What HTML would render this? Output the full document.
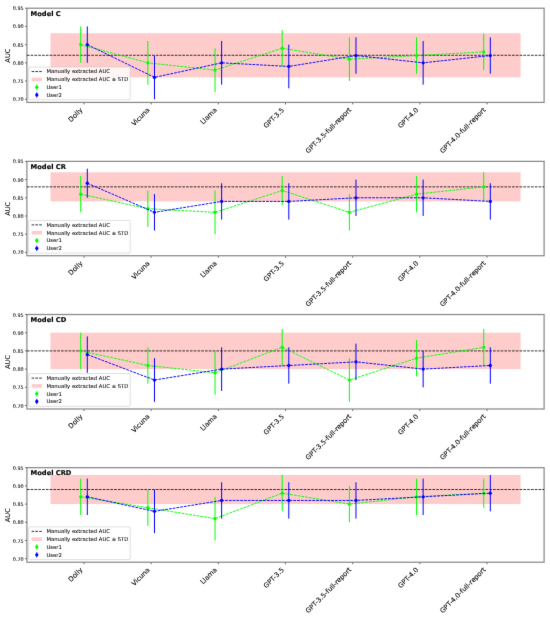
<!DOCTYPE html>
<html lang="en"><head><meta charset="utf-8"><title>AUC by model</title>
<style>html,body{margin:0;padding:0;background:#fff}svg{display:block}text{font-family:"DejaVu Sans","Liberation Sans",sans-serif;fill:#000;stroke:#000;stroke-width:0.05px;text-rendering:geometricPrecision}.t{font-size:4.9px}.l{font-size:5.28px}.h{font-size:6.7px;font-weight:bold;stroke-width:0.15px}.y{font-size:6.7px}.x{font-size:6.7px;stroke-width:0.1px}</style></head><body>
<svg width="550" height="618" viewBox="0 0 550 618">
<defs><filter id="b" x="0" y="0" width="550" height="618" filterUnits="userSpaceOnUse" color-interpolation-filters="sRGB"><feConvolveMatrix order="3" kernelMatrix="0.0049 0.0602 0.0049 0.0602 0.7396 0.0602 0.0049 0.0602 0.0049" divisor="1" edgeMode="duplicate" preserveAlpha="true"/></filter></defs>
<g filter="url(#b)">
<rect width="550" height="618" fill="#fff"/>
<g>
<rect x="50.41" y="33.19" width="470.19" height="44.19" fill="#ffcccc"/>
<line x1="26.9" x2="544.1" y1="55.29" y2="55.29" stroke="#000" stroke-width="0.8" stroke-dasharray="2.65 1.14"/>
<line x1="80.7" x2="80.7" y1="26.42" y2="62.82" stroke="#00ff00" stroke-width="1.0"/>
<line x1="147.87" x2="147.87" y1="40.98" y2="84.66" stroke="#00ff00" stroke-width="1.0"/>
<line x1="215.04" x2="215.04" y1="48.26" y2="91.94" stroke="#00ff00" stroke-width="1.0"/>
<line x1="282.21" x2="282.21" y1="30.06" y2="66.46" stroke="#00ff00" stroke-width="1.0"/>
<line x1="349.38" x2="349.38" y1="37.34" y2="81.02" stroke="#00ff00" stroke-width="1.0"/>
<line x1="416.55" x2="416.55" y1="37.34" y2="73.74" stroke="#00ff00" stroke-width="1.0"/>
<line x1="483.72" x2="483.72" y1="33.7" y2="70.1" stroke="#00ff00" stroke-width="1.0"/>
<polyline fill="none" stroke="#00ff00" stroke-width="0.95" stroke-dasharray="2.75 1.04" points="80.7,44.62 147.87,62.82 215.04,70.1 282.21,48.26 349.38,59.18 416.55,55.54 483.72,51.9"/>
<circle cx="80.7" cy="44.62" r="1.65" fill="#00ff00"/>
<circle cx="147.87" cy="62.82" r="1.65" fill="#00ff00"/>
<circle cx="215.04" cy="70.1" r="1.65" fill="#00ff00"/>
<circle cx="282.21" cy="48.26" r="1.65" fill="#00ff00"/>
<circle cx="349.38" cy="59.18" r="1.65" fill="#00ff00"/>
<circle cx="416.55" cy="55.54" r="1.65" fill="#00ff00"/>
<circle cx="483.72" cy="51.9" r="1.65" fill="#00ff00"/>
<line x1="87.3" x2="87.3" y1="26.42" y2="62.82" stroke="#0000ff" stroke-width="1.0"/>
<line x1="154.47" x2="154.47" y1="55.54" y2="99.22" stroke="#0000ff" stroke-width="1.0"/>
<line x1="221.64" x2="221.64" y1="40.98" y2="84.66" stroke="#0000ff" stroke-width="1.0"/>
<line x1="288.81" x2="288.81" y1="44.62" y2="88.3" stroke="#0000ff" stroke-width="1.0"/>
<line x1="355.98" x2="355.98" y1="37.34" y2="73.74" stroke="#0000ff" stroke-width="1.0"/>
<line x1="423.15" x2="423.15" y1="40.98" y2="84.66" stroke="#0000ff" stroke-width="1.0"/>
<line x1="490.32" x2="490.32" y1="37.34" y2="73.74" stroke="#0000ff" stroke-width="1.0"/>
<polyline fill="none" stroke="#0000ff" stroke-width="0.95" stroke-dasharray="2.75 1.04" points="87.3,44.62 154.47,77.38 221.64,62.82 288.81,66.46 355.98,55.54 423.15,62.82 490.32,55.54"/>
<circle cx="87.3" cy="44.62" r="1.65" fill="#0000ff"/>
<circle cx="154.47" cy="77.38" r="1.65" fill="#0000ff"/>
<circle cx="221.64" cy="62.82" r="1.65" fill="#0000ff"/>
<circle cx="288.81" cy="66.46" r="1.65" fill="#0000ff"/>
<circle cx="355.98" cy="55.54" r="1.65" fill="#0000ff"/>
<circle cx="423.15" cy="62.82" r="1.65" fill="#0000ff"/>
<circle cx="490.32" cy="55.54" r="1.65" fill="#0000ff"/>
<rect x="26.9" y="8.22" width="517.2" height="94.2" fill="none" stroke="#000" stroke-opacity="0.46" stroke-width="1.25"/>
<line x1="25.1" x2="26.6" y1="99.22" y2="99.22" stroke="#000" stroke-width="0.6"/>
<text class="t" x="23.7" y="101.28" text-anchor="end">0.70</text>
<line x1="25.1" x2="26.6" y1="81.02" y2="81.02" stroke="#000" stroke-width="0.6"/>
<text class="t" x="23.7" y="83.08" text-anchor="end">0.75</text>
<line x1="25.1" x2="26.6" y1="62.82" y2="62.82" stroke="#000" stroke-width="0.6"/>
<text class="t" x="23.7" y="64.88" text-anchor="end">0.80</text>
<line x1="25.1" x2="26.6" y1="44.62" y2="44.62" stroke="#000" stroke-width="0.6"/>
<text class="t" x="23.7" y="46.68" text-anchor="end">0.85</text>
<line x1="25.1" x2="26.6" y1="26.42" y2="26.42" stroke="#000" stroke-width="0.6"/>
<text class="t" x="23.7" y="28.48" text-anchor="end">0.90</text>
<line x1="25.1" x2="26.6" y1="8.22" y2="8.22" stroke="#000" stroke-width="0.6"/>
<text class="t" x="23.7" y="10.28" text-anchor="end">0.95</text>
<line x1="84" x2="84" y1="102.92" y2="104.42" stroke="#000" stroke-width="0.6"/>
<text class="x" transform="translate(83 110.42) rotate(-45)" text-anchor="end">Dolly</text>
<line x1="151.17" x2="151.17" y1="102.92" y2="104.42" stroke="#000" stroke-width="0.6"/>
<text class="x" transform="translate(150.17 110.42) rotate(-45)" text-anchor="end">Vicuna</text>
<line x1="218.34" x2="218.34" y1="102.92" y2="104.42" stroke="#000" stroke-width="0.6"/>
<text class="x" transform="translate(217.34 110.42) rotate(-45)" text-anchor="end">Llama</text>
<line x1="285.51" x2="285.51" y1="102.92" y2="104.42" stroke="#000" stroke-width="0.6"/>
<text class="x" transform="translate(284.51 110.42) rotate(-45)" text-anchor="end">GPT-3.5</text>
<line x1="352.68" x2="352.68" y1="102.92" y2="104.42" stroke="#000" stroke-width="0.6"/>
<text class="x" transform="translate(351.68 110.42) rotate(-45)" text-anchor="end">GPT-3.5-full-report</text>
<line x1="419.85" x2="419.85" y1="102.92" y2="104.42" stroke="#000" stroke-width="0.6"/>
<text class="x" transform="translate(418.85 110.42) rotate(-45)" text-anchor="end">GPT-4.0</text>
<line x1="487.02" x2="487.02" y1="102.92" y2="104.42" stroke="#000" stroke-width="0.6"/>
<text class="x" transform="translate(486.02 110.42) rotate(-45)" text-anchor="end">GPT-4.0-full-report</text>
<text class="y" transform="translate(9.8 55.57) rotate(-90)" text-anchor="middle">AUC</text>
<text class="h" x="30.6" y="15.87">Model C</text>
<rect x="28.7" y="67.07" width="101.5" height="32.7" rx="0.9" fill="#fff" fill-opacity="0.8" stroke="#c4c4c4" stroke-opacity="0.9" stroke-width="0.6"/>
<line x1="31.6" x2="42" y1="71.57" y2="71.57" stroke="#000" stroke-width="0.8" stroke-dasharray="2.65 1.14"/>
<rect x="31.6" y="77.57" width="10.4" height="3.6" fill="#ffcccc"/>
<line x1="36.8" x2="36.8" y1="84.57" y2="89.77" stroke="#00ff00" stroke-width="1.0"/>
<circle cx="36.8" cy="87.17" r="1.65" fill="#00ff00"/>
<line x1="36.8" x2="36.8" y1="92.37" y2="97.57" stroke="#0000ff" stroke-width="1.0"/>
<circle cx="36.8" cy="94.97" r="1.65" fill="#0000ff"/>
<text class="l" x="46.5" y="73.47">Manually extracted AUC</text>
<text class="l" x="46.5" y="81.27">Manually extracted AUC ± STD</text>
<text class="l" x="46.5" y="89.07">User1</text>
<text class="l" x="46.5" y="96.87">User2</text>
</g>
<g>
<rect x="50.41" y="172.3" width="470.19" height="29.12" fill="#ffcccc"/>
<line x1="26.9" x2="544.1" y1="186.86" y2="186.86" stroke="#000" stroke-width="0.8" stroke-dasharray="2.65 1.14"/>
<line x1="80.7" x2="80.7" y1="175.94" y2="212.34" stroke="#00ff00" stroke-width="1.0"/>
<line x1="147.87" x2="147.87" y1="190.5" y2="226.9" stroke="#00ff00" stroke-width="1.0"/>
<line x1="215.04" x2="215.04" y1="190.5" y2="234.18" stroke="#00ff00" stroke-width="1.0"/>
<line x1="282.21" x2="282.21" y1="175.94" y2="205.06" stroke="#00ff00" stroke-width="1.0"/>
<line x1="349.38" x2="349.38" y1="194.14" y2="230.54" stroke="#00ff00" stroke-width="1.0"/>
<line x1="416.55" x2="416.55" y1="175.94" y2="212.34" stroke="#00ff00" stroke-width="1.0"/>
<line x1="483.72" x2="483.72" y1="172.3" y2="201.42" stroke="#00ff00" stroke-width="1.0"/>
<polyline fill="none" stroke="#00ff00" stroke-width="0.95" stroke-dasharray="2.75 1.04" points="80.7,194.14 147.87,208.7 215.04,212.34 282.21,190.5 349.38,212.34 416.55,194.14 483.72,186.86"/>
<circle cx="80.7" cy="194.14" r="1.65" fill="#00ff00"/>
<circle cx="147.87" cy="208.7" r="1.65" fill="#00ff00"/>
<circle cx="215.04" cy="212.34" r="1.65" fill="#00ff00"/>
<circle cx="282.21" cy="190.5" r="1.65" fill="#00ff00"/>
<circle cx="349.38" cy="212.34" r="1.65" fill="#00ff00"/>
<circle cx="416.55" cy="194.14" r="1.65" fill="#00ff00"/>
<circle cx="483.72" cy="186.86" r="1.65" fill="#00ff00"/>
<line x1="87.3" x2="87.3" y1="168.66" y2="197.78" stroke="#0000ff" stroke-width="1.0"/>
<line x1="154.47" x2="154.47" y1="194.14" y2="230.54" stroke="#0000ff" stroke-width="1.0"/>
<line x1="221.64" x2="221.64" y1="183.22" y2="219.62" stroke="#0000ff" stroke-width="1.0"/>
<line x1="288.81" x2="288.81" y1="183.22" y2="219.62" stroke="#0000ff" stroke-width="1.0"/>
<line x1="355.98" x2="355.98" y1="179.58" y2="215.98" stroke="#0000ff" stroke-width="1.0"/>
<line x1="423.15" x2="423.15" y1="179.58" y2="215.98" stroke="#0000ff" stroke-width="1.0"/>
<line x1="490.32" x2="490.32" y1="183.22" y2="219.62" stroke="#0000ff" stroke-width="1.0"/>
<polyline fill="none" stroke="#0000ff" stroke-width="0.95" stroke-dasharray="2.75 1.04" points="87.3,183.22 154.47,212.34 221.64,201.42 288.81,201.42 355.98,197.78 423.15,197.78 490.32,201.42"/>
<circle cx="87.3" cy="183.22" r="1.65" fill="#0000ff"/>
<circle cx="154.47" cy="212.34" r="1.65" fill="#0000ff"/>
<circle cx="221.64" cy="201.42" r="1.65" fill="#0000ff"/>
<circle cx="288.81" cy="201.42" r="1.65" fill="#0000ff"/>
<circle cx="355.98" cy="197.78" r="1.65" fill="#0000ff"/>
<circle cx="423.15" cy="197.78" r="1.65" fill="#0000ff"/>
<circle cx="490.32" cy="201.42" r="1.65" fill="#0000ff"/>
<rect x="26.9" y="161.38" width="517.2" height="94.35" fill="none" stroke="#000" stroke-opacity="0.46" stroke-width="1.25"/>
<line x1="25.1" x2="26.6" y1="252.38" y2="252.38" stroke="#000" stroke-width="0.6"/>
<text class="t" x="23.7" y="254.44" text-anchor="end">0.70</text>
<line x1="25.1" x2="26.6" y1="234.18" y2="234.18" stroke="#000" stroke-width="0.6"/>
<text class="t" x="23.7" y="236.24" text-anchor="end">0.75</text>
<line x1="25.1" x2="26.6" y1="215.98" y2="215.98" stroke="#000" stroke-width="0.6"/>
<text class="t" x="23.7" y="218.04" text-anchor="end">0.80</text>
<line x1="25.1" x2="26.6" y1="197.78" y2="197.78" stroke="#000" stroke-width="0.6"/>
<text class="t" x="23.7" y="199.84" text-anchor="end">0.85</text>
<line x1="25.1" x2="26.6" y1="179.58" y2="179.58" stroke="#000" stroke-width="0.6"/>
<text class="t" x="23.7" y="181.64" text-anchor="end">0.90</text>
<line x1="25.1" x2="26.6" y1="161.38" y2="161.38" stroke="#000" stroke-width="0.6"/>
<text class="t" x="23.7" y="163.44" text-anchor="end">0.95</text>
<line x1="84" x2="84" y1="256.23" y2="257.73" stroke="#000" stroke-width="0.6"/>
<text class="x" transform="translate(83 263.73) rotate(-45)" text-anchor="end">Dolly</text>
<line x1="151.17" x2="151.17" y1="256.23" y2="257.73" stroke="#000" stroke-width="0.6"/>
<text class="x" transform="translate(150.17 263.73) rotate(-45)" text-anchor="end">Vicuna</text>
<line x1="218.34" x2="218.34" y1="256.23" y2="257.73" stroke="#000" stroke-width="0.6"/>
<text class="x" transform="translate(217.34 263.73) rotate(-45)" text-anchor="end">Llama</text>
<line x1="285.51" x2="285.51" y1="256.23" y2="257.73" stroke="#000" stroke-width="0.6"/>
<text class="x" transform="translate(284.51 263.73) rotate(-45)" text-anchor="end">GPT-3.5</text>
<line x1="352.68" x2="352.68" y1="256.23" y2="257.73" stroke="#000" stroke-width="0.6"/>
<text class="x" transform="translate(351.68 263.73) rotate(-45)" text-anchor="end">GPT-3.5-full-report</text>
<line x1="419.85" x2="419.85" y1="256.23" y2="257.73" stroke="#000" stroke-width="0.6"/>
<text class="x" transform="translate(418.85 263.73) rotate(-45)" text-anchor="end">GPT-4.0</text>
<line x1="487.02" x2="487.02" y1="256.23" y2="257.73" stroke="#000" stroke-width="0.6"/>
<text class="x" transform="translate(486.02 263.73) rotate(-45)" text-anchor="end">GPT-4.0-full-report</text>
<text class="y" transform="translate(9.8 208.81) rotate(-90)" text-anchor="middle">AUC</text>
<text class="h" x="30.6" y="169.03">Model CR</text>
<rect x="28.7" y="220.38" width="101.5" height="32.7" rx="0.9" fill="#fff" fill-opacity="0.8" stroke="#c4c4c4" stroke-opacity="0.9" stroke-width="0.6"/>
<line x1="31.6" x2="42" y1="224.88" y2="224.88" stroke="#000" stroke-width="0.8" stroke-dasharray="2.65 1.14"/>
<rect x="31.6" y="230.88" width="10.4" height="3.6" fill="#ffcccc"/>
<line x1="36.8" x2="36.8" y1="237.88" y2="243.08" stroke="#00ff00" stroke-width="1.0"/>
<circle cx="36.8" cy="240.48" r="1.65" fill="#00ff00"/>
<line x1="36.8" x2="36.8" y1="245.68" y2="250.88" stroke="#0000ff" stroke-width="1.0"/>
<circle cx="36.8" cy="248.28" r="1.65" fill="#0000ff"/>
<text class="l" x="46.5" y="226.78">Manually extracted AUC</text>
<text class="l" x="46.5" y="234.58">Manually extracted AUC ± STD</text>
<text class="l" x="46.5" y="242.38">User1</text>
<text class="l" x="46.5" y="250.18">User2</text>
</g>
<g>
<rect x="50.41" y="332.72" width="470.19" height="36.4" fill="#ffcccc"/>
<line x1="26.9" x2="544.1" y1="350.92" y2="350.92" stroke="#000" stroke-width="0.8" stroke-dasharray="2.65 1.14"/>
<line x1="80.7" x2="80.7" y1="332.72" y2="369.12" stroke="#00ff00" stroke-width="1.0"/>
<line x1="147.87" x2="147.87" y1="347.28" y2="383.68" stroke="#00ff00" stroke-width="1.0"/>
<line x1="215.04" x2="215.04" y1="350.92" y2="394.6" stroke="#00ff00" stroke-width="1.0"/>
<line x1="282.21" x2="282.21" y1="329.08" y2="365.48" stroke="#00ff00" stroke-width="1.0"/>
<line x1="349.38" x2="349.38" y1="358.2" y2="401.88" stroke="#00ff00" stroke-width="1.0"/>
<line x1="416.55" x2="416.55" y1="340" y2="376.4" stroke="#00ff00" stroke-width="1.0"/>
<line x1="483.72" x2="483.72" y1="329.08" y2="365.48" stroke="#00ff00" stroke-width="1.0"/>
<polyline fill="none" stroke="#00ff00" stroke-width="0.95" stroke-dasharray="2.75 1.04" points="80.7,350.92 147.87,365.48 215.04,372.76 282.21,347.28 349.38,380.04 416.55,358.2 483.72,347.28"/>
<circle cx="80.7" cy="350.92" r="1.65" fill="#00ff00"/>
<circle cx="147.87" cy="365.48" r="1.65" fill="#00ff00"/>
<circle cx="215.04" cy="372.76" r="1.65" fill="#00ff00"/>
<circle cx="282.21" cy="347.28" r="1.65" fill="#00ff00"/>
<circle cx="349.38" cy="380.04" r="1.65" fill="#00ff00"/>
<circle cx="416.55" cy="358.2" r="1.65" fill="#00ff00"/>
<circle cx="483.72" cy="347.28" r="1.65" fill="#00ff00"/>
<line x1="87.3" x2="87.3" y1="336.36" y2="372.76" stroke="#0000ff" stroke-width="1.0"/>
<line x1="154.47" x2="154.47" y1="358.2" y2="401.88" stroke="#0000ff" stroke-width="1.0"/>
<line x1="221.64" x2="221.64" y1="347.28" y2="390.96" stroke="#0000ff" stroke-width="1.0"/>
<line x1="288.81" x2="288.81" y1="347.28" y2="383.68" stroke="#0000ff" stroke-width="1.0"/>
<line x1="355.98" x2="355.98" y1="343.64" y2="380.04" stroke="#0000ff" stroke-width="1.0"/>
<line x1="423.15" x2="423.15" y1="350.92" y2="387.32" stroke="#0000ff" stroke-width="1.0"/>
<line x1="490.32" x2="490.32" y1="347.28" y2="383.68" stroke="#0000ff" stroke-width="1.0"/>
<polyline fill="none" stroke="#0000ff" stroke-width="0.95" stroke-dasharray="2.75 1.04" points="87.3,354.56 154.47,380.04 221.64,369.12 288.81,365.48 355.98,361.84 423.15,369.12 490.32,365.48"/>
<circle cx="87.3" cy="354.56" r="1.65" fill="#0000ff"/>
<circle cx="154.47" cy="380.04" r="1.65" fill="#0000ff"/>
<circle cx="221.64" cy="369.12" r="1.65" fill="#0000ff"/>
<circle cx="288.81" cy="365.48" r="1.65" fill="#0000ff"/>
<circle cx="355.98" cy="361.84" r="1.65" fill="#0000ff"/>
<circle cx="423.15" cy="369.12" r="1.65" fill="#0000ff"/>
<circle cx="490.32" cy="365.48" r="1.65" fill="#0000ff"/>
<rect x="26.9" y="314.52" width="517.2" height="94.45" fill="none" stroke="#000" stroke-opacity="0.46" stroke-width="1.25"/>
<line x1="25.1" x2="26.6" y1="405.52" y2="405.52" stroke="#000" stroke-width="0.6"/>
<text class="t" x="23.7" y="407.58" text-anchor="end">0.70</text>
<line x1="25.1" x2="26.6" y1="387.32" y2="387.32" stroke="#000" stroke-width="0.6"/>
<text class="t" x="23.7" y="389.38" text-anchor="end">0.75</text>
<line x1="25.1" x2="26.6" y1="369.12" y2="369.12" stroke="#000" stroke-width="0.6"/>
<text class="t" x="23.7" y="371.18" text-anchor="end">0.80</text>
<line x1="25.1" x2="26.6" y1="350.92" y2="350.92" stroke="#000" stroke-width="0.6"/>
<text class="t" x="23.7" y="352.98" text-anchor="end">0.85</text>
<line x1="25.1" x2="26.6" y1="332.72" y2="332.72" stroke="#000" stroke-width="0.6"/>
<text class="t" x="23.7" y="334.78" text-anchor="end">0.90</text>
<line x1="25.1" x2="26.6" y1="314.52" y2="314.52" stroke="#000" stroke-width="0.6"/>
<text class="t" x="23.7" y="316.58" text-anchor="end">0.95</text>
<line x1="84" x2="84" y1="409.47" y2="410.97" stroke="#000" stroke-width="0.6"/>
<text class="x" transform="translate(83 416.97) rotate(-45)" text-anchor="end">Dolly</text>
<line x1="151.17" x2="151.17" y1="409.47" y2="410.97" stroke="#000" stroke-width="0.6"/>
<text class="x" transform="translate(150.17 416.97) rotate(-45)" text-anchor="end">Vicuna</text>
<line x1="218.34" x2="218.34" y1="409.47" y2="410.97" stroke="#000" stroke-width="0.6"/>
<text class="x" transform="translate(217.34 416.97) rotate(-45)" text-anchor="end">Llama</text>
<line x1="285.51" x2="285.51" y1="409.47" y2="410.97" stroke="#000" stroke-width="0.6"/>
<text class="x" transform="translate(284.51 416.97) rotate(-45)" text-anchor="end">GPT-3.5</text>
<line x1="352.68" x2="352.68" y1="409.47" y2="410.97" stroke="#000" stroke-width="0.6"/>
<text class="x" transform="translate(351.68 416.97) rotate(-45)" text-anchor="end">GPT-3.5-full-report</text>
<line x1="419.85" x2="419.85" y1="409.47" y2="410.97" stroke="#000" stroke-width="0.6"/>
<text class="x" transform="translate(418.85 416.97) rotate(-45)" text-anchor="end">GPT-4.0</text>
<line x1="487.02" x2="487.02" y1="409.47" y2="410.97" stroke="#000" stroke-width="0.6"/>
<text class="x" transform="translate(486.02 416.97) rotate(-45)" text-anchor="end">GPT-4.0-full-report</text>
<text class="y" transform="translate(9.8 362) rotate(-90)" text-anchor="middle">AUC</text>
<text class="h" x="30.6" y="322.17">Model CD</text>
<rect x="28.7" y="373.62" width="101.5" height="32.7" rx="0.9" fill="#fff" fill-opacity="0.8" stroke="#c4c4c4" stroke-opacity="0.9" stroke-width="0.6"/>
<line x1="31.6" x2="42" y1="378.12" y2="378.12" stroke="#000" stroke-width="0.8" stroke-dasharray="2.65 1.14"/>
<rect x="31.6" y="384.12" width="10.4" height="3.6" fill="#ffcccc"/>
<line x1="36.8" x2="36.8" y1="391.12" y2="396.32" stroke="#00ff00" stroke-width="1.0"/>
<circle cx="36.8" cy="393.72" r="1.65" fill="#00ff00"/>
<line x1="36.8" x2="36.8" y1="398.92" y2="404.12" stroke="#0000ff" stroke-width="1.0"/>
<circle cx="36.8" cy="401.52" r="1.65" fill="#0000ff"/>
<text class="l" x="46.5" y="380.02">Manually extracted AUC</text>
<text class="l" x="46.5" y="387.82">Manually extracted AUC ± STD</text>
<text class="l" x="46.5" y="395.62">User1</text>
<text class="l" x="46.5" y="403.42">User2</text>
</g>
<g>
<rect x="50.41" y="474.96" width="470.19" height="29.12" fill="#ffcccc"/>
<line x1="26.9" x2="544.1" y1="489.52" y2="489.52" stroke="#000" stroke-width="0.8" stroke-dasharray="2.65 1.14"/>
<line x1="80.7" x2="80.7" y1="478.6" y2="515" stroke="#00ff00" stroke-width="1.0"/>
<line x1="147.87" x2="147.87" y1="489.52" y2="525.92" stroke="#00ff00" stroke-width="1.0"/>
<line x1="215.04" x2="215.04" y1="496.8" y2="540.48" stroke="#00ff00" stroke-width="1.0"/>
<line x1="282.21" x2="282.21" y1="474.96" y2="511.36" stroke="#00ff00" stroke-width="1.0"/>
<line x1="349.38" x2="349.38" y1="485.88" y2="522.28" stroke="#00ff00" stroke-width="1.0"/>
<line x1="416.55" x2="416.55" y1="478.6" y2="515" stroke="#00ff00" stroke-width="1.0"/>
<line x1="483.72" x2="483.72" y1="478.6" y2="507.72" stroke="#00ff00" stroke-width="1.0"/>
<polyline fill="none" stroke="#00ff00" stroke-width="0.95" stroke-dasharray="2.75 1.04" points="80.7,496.8 147.87,507.72 215.04,518.64 282.21,493.16 349.38,504.08 416.55,496.8 483.72,493.16"/>
<circle cx="80.7" cy="496.8" r="1.65" fill="#00ff00"/>
<circle cx="147.87" cy="507.72" r="1.65" fill="#00ff00"/>
<circle cx="215.04" cy="518.64" r="1.65" fill="#00ff00"/>
<circle cx="282.21" cy="493.16" r="1.65" fill="#00ff00"/>
<circle cx="349.38" cy="504.08" r="1.65" fill="#00ff00"/>
<circle cx="416.55" cy="496.8" r="1.65" fill="#00ff00"/>
<circle cx="483.72" cy="493.16" r="1.65" fill="#00ff00"/>
<line x1="87.3" x2="87.3" y1="478.6" y2="515" stroke="#0000ff" stroke-width="1.0"/>
<line x1="154.47" x2="154.47" y1="489.52" y2="533.2" stroke="#0000ff" stroke-width="1.0"/>
<line x1="221.64" x2="221.64" y1="482.24" y2="518.64" stroke="#0000ff" stroke-width="1.0"/>
<line x1="288.81" x2="288.81" y1="482.24" y2="518.64" stroke="#0000ff" stroke-width="1.0"/>
<line x1="355.98" x2="355.98" y1="482.24" y2="518.64" stroke="#0000ff" stroke-width="1.0"/>
<line x1="423.15" x2="423.15" y1="478.6" y2="515" stroke="#0000ff" stroke-width="1.0"/>
<line x1="490.32" x2="490.32" y1="474.96" y2="511.36" stroke="#0000ff" stroke-width="1.0"/>
<polyline fill="none" stroke="#0000ff" stroke-width="0.95" stroke-dasharray="2.75 1.04" points="87.3,496.8 154.47,511.36 221.64,500.44 288.81,500.44 355.98,500.44 423.15,496.8 490.32,493.16"/>
<circle cx="87.3" cy="496.8" r="1.65" fill="#0000ff"/>
<circle cx="154.47" cy="511.36" r="1.65" fill="#0000ff"/>
<circle cx="221.64" cy="500.44" r="1.65" fill="#0000ff"/>
<circle cx="288.81" cy="500.44" r="1.65" fill="#0000ff"/>
<circle cx="355.98" cy="500.44" r="1.65" fill="#0000ff"/>
<circle cx="423.15" cy="496.8" r="1.65" fill="#0000ff"/>
<circle cx="490.32" cy="493.16" r="1.65" fill="#0000ff"/>
<rect x="26.9" y="467.68" width="517.2" height="94.55" fill="none" stroke="#000" stroke-opacity="0.46" stroke-width="1.25"/>
<line x1="25.1" x2="26.6" y1="558.68" y2="558.68" stroke="#000" stroke-width="0.6"/>
<text class="t" x="23.7" y="560.74" text-anchor="end">0.70</text>
<line x1="25.1" x2="26.6" y1="540.48" y2="540.48" stroke="#000" stroke-width="0.6"/>
<text class="t" x="23.7" y="542.54" text-anchor="end">0.75</text>
<line x1="25.1" x2="26.6" y1="522.28" y2="522.28" stroke="#000" stroke-width="0.6"/>
<text class="t" x="23.7" y="524.34" text-anchor="end">0.80</text>
<line x1="25.1" x2="26.6" y1="504.08" y2="504.08" stroke="#000" stroke-width="0.6"/>
<text class="t" x="23.7" y="506.14" text-anchor="end">0.85</text>
<line x1="25.1" x2="26.6" y1="485.88" y2="485.88" stroke="#000" stroke-width="0.6"/>
<text class="t" x="23.7" y="487.94" text-anchor="end">0.90</text>
<line x1="25.1" x2="26.6" y1="467.68" y2="467.68" stroke="#000" stroke-width="0.6"/>
<text class="t" x="23.7" y="469.74" text-anchor="end">0.95</text>
<line x1="84" x2="84" y1="562.73" y2="564.23" stroke="#000" stroke-width="0.6"/>
<text class="x" transform="translate(83 570.23) rotate(-45)" text-anchor="end">Dolly</text>
<line x1="151.17" x2="151.17" y1="562.73" y2="564.23" stroke="#000" stroke-width="0.6"/>
<text class="x" transform="translate(150.17 570.23) rotate(-45)" text-anchor="end">Vicuna</text>
<line x1="218.34" x2="218.34" y1="562.73" y2="564.23" stroke="#000" stroke-width="0.6"/>
<text class="x" transform="translate(217.34 570.23) rotate(-45)" text-anchor="end">Llama</text>
<line x1="285.51" x2="285.51" y1="562.73" y2="564.23" stroke="#000" stroke-width="0.6"/>
<text class="x" transform="translate(284.51 570.23) rotate(-45)" text-anchor="end">GPT-3.5</text>
<line x1="352.68" x2="352.68" y1="562.73" y2="564.23" stroke="#000" stroke-width="0.6"/>
<text class="x" transform="translate(351.68 570.23) rotate(-45)" text-anchor="end">GPT-3.5-full-report</text>
<line x1="419.85" x2="419.85" y1="562.73" y2="564.23" stroke="#000" stroke-width="0.6"/>
<text class="x" transform="translate(418.85 570.23) rotate(-45)" text-anchor="end">GPT-4.0</text>
<line x1="487.02" x2="487.02" y1="562.73" y2="564.23" stroke="#000" stroke-width="0.6"/>
<text class="x" transform="translate(486.02 570.23) rotate(-45)" text-anchor="end">GPT-4.0-full-report</text>
<text class="y" transform="translate(9.8 515.21) rotate(-90)" text-anchor="middle">AUC</text>
<text class="h" x="30.6" y="475.33">Model CRD</text>
<rect x="28.7" y="526.88" width="101.5" height="32.7" rx="0.9" fill="#fff" fill-opacity="0.8" stroke="#c4c4c4" stroke-opacity="0.9" stroke-width="0.6"/>
<line x1="31.6" x2="42" y1="531.38" y2="531.38" stroke="#000" stroke-width="0.8" stroke-dasharray="2.65 1.14"/>
<rect x="31.6" y="537.38" width="10.4" height="3.6" fill="#ffcccc"/>
<line x1="36.8" x2="36.8" y1="544.38" y2="549.58" stroke="#00ff00" stroke-width="1.0"/>
<circle cx="36.8" cy="546.98" r="1.65" fill="#00ff00"/>
<line x1="36.8" x2="36.8" y1="552.18" y2="557.38" stroke="#0000ff" stroke-width="1.0"/>
<circle cx="36.8" cy="554.78" r="1.65" fill="#0000ff"/>
<text class="l" x="46.5" y="533.28">Manually extracted AUC</text>
<text class="l" x="46.5" y="541.08">Manually extracted AUC ± STD</text>
<text class="l" x="46.5" y="548.88">User1</text>
<text class="l" x="46.5" y="556.68">User2</text>
</g>
</g></svg></body></html>
